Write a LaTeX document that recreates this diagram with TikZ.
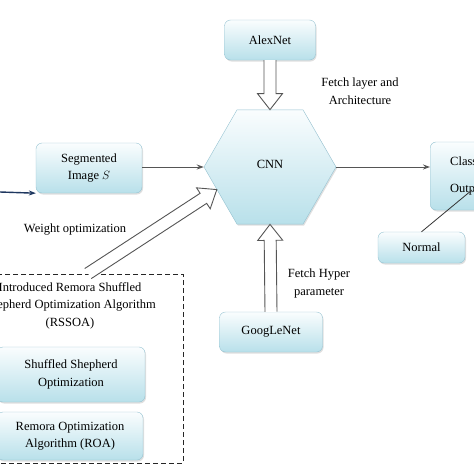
\documentclass[tikz,border=0pt]{standalone}
\usepackage{fontspec}
\setmainfont{Liberation Serif}
\usetikzlibrary{shapes.geometric,shadows,calc,arrows.meta}
\definecolor{boxtop}{RGB}{250,253,254}
\definecolor{boxbot}{RGB}{184,224,234}
\definecolor{boxline}{RGB}{150,195,210}
\definecolor{lnk}{RGB}{85,85,85}
\definecolor{navy}{RGB}{30,55,95}
\tikzset{
    box/.style={rounded corners=6pt, draw=boxline, top color=boxtop, bottom color=boxbot, align=center,
        drop shadow={opacity=0.25, shadow xshift=1pt, shadow yshift=-1.5pt}},
    link/.style={draw=lnk, line width=1pt, -{Stealth[length=7pt,width=5pt]}},
    hollow/.style={draw=lnk, line width=0.9pt, fill=white, line join=miter}
}
\newcommand{\blockarrow}[2]{%
    \coordinate (ba) at ($(#2)!16pt!(#1)$);
    \draw[hollow] ($(#1)!6pt!90:(#2)$) -- ($(ba)!6pt!90:(#2)$) -- ($(ba)!12.5pt!90:(#2)$) -- (#2)
        -- ($(ba)!12.5pt!-90:(#2)$) -- ($(ba)!6pt!-90:(#2)$) -- ($(#1)!6pt!-90:(#2)$);
}
\begin{document}
\begin{tikzpicture}[x=1pt, y=-1pt, font=\fontsize{12.5}{17.5}\selectfont]
                \useasboundingbox (0,0) rectangle (474,474);

                \node[box, minimum width=91pt, minimum height=40pt] (alex) at (270,40) {AlexNet};
                \node[box, minimum width=106pt, minimum height=50pt] (seg) at (89,168) {Segmented\\Image $S$};
                \node[regular polygon, regular polygon sides=6, minimum size=132pt, inner sep=0pt,
                      draw=boxline, top color=boxtop, bottom color=boxbot,
                      drop shadow={opacity=0.25, shadow xshift=1pt, shadow yshift=-1.5pt}] (cnn) at (270,167) {\raisebox{5pt}{CNN}};
                \node[box, minimum height=68pt, text width=60pt, inner xsep=20pt, align=left, anchor=west] (cls) at (430,176) {Classified\\[10pt]Output};
                \node[box, minimum width=87pt, minimum height=31pt] (nrm) at (421.5,247.5) {Normal};
                \node[box, minimum width=103pt, minimum height=40pt] (goog) at (271,332) {GoogLeNet};

                \node[draw=gray!30!black, line width=0.9pt, dash pattern=on 5pt off 3pt,
                      minimum width=190pt, minimum height=189pt] (opt) at (88,368.5) {};
                \node[align=center] (rssoa) at (70,305.5) {Introduced Remora Shuffled\\Shepherd Optimization Algorithm\\(RSSOA)};
                \node[box, minimum width=148pt, minimum height=55pt] (ssoa) at (71,374.5) {Shuffled Shepherd\\Optimization};
                \node[box, minimum width=146pt, minimum height=48pt] (roa) at (70,436) {Remora Optimization\\Algorithm (ROA)};

                \node[align=center] (lfetch) at (360,91) {Fetch layer and\\Architecture};
                \node[align=center] (lhyper) at (319,283.5) {Fetch Hyper\\parameter};
                \node (lweight) at (75,230) {Weight optimization};

                \coordinate (src) at (0,192);
                \coordinate (clsp) at (472,190);

                \draw[link, draw=navy, line width=1.4pt] (src) -- (seg.south west);
                \draw[link] (seg.east |- cnn.west) -- (cnn.west);
                \draw[link] (cnn.east) -- (cnn.east -| cls.west);
                \draw[draw=black!80, line width=0.8pt] (nrm.north) -- (clsp);

                \blockarrow{alex.south}{cnn.north}
                \blockarrow{goog.north}{cnn.south}
                \blockarrow{opt.north}{cnn.203}
\end{tikzpicture}
\end{document}
